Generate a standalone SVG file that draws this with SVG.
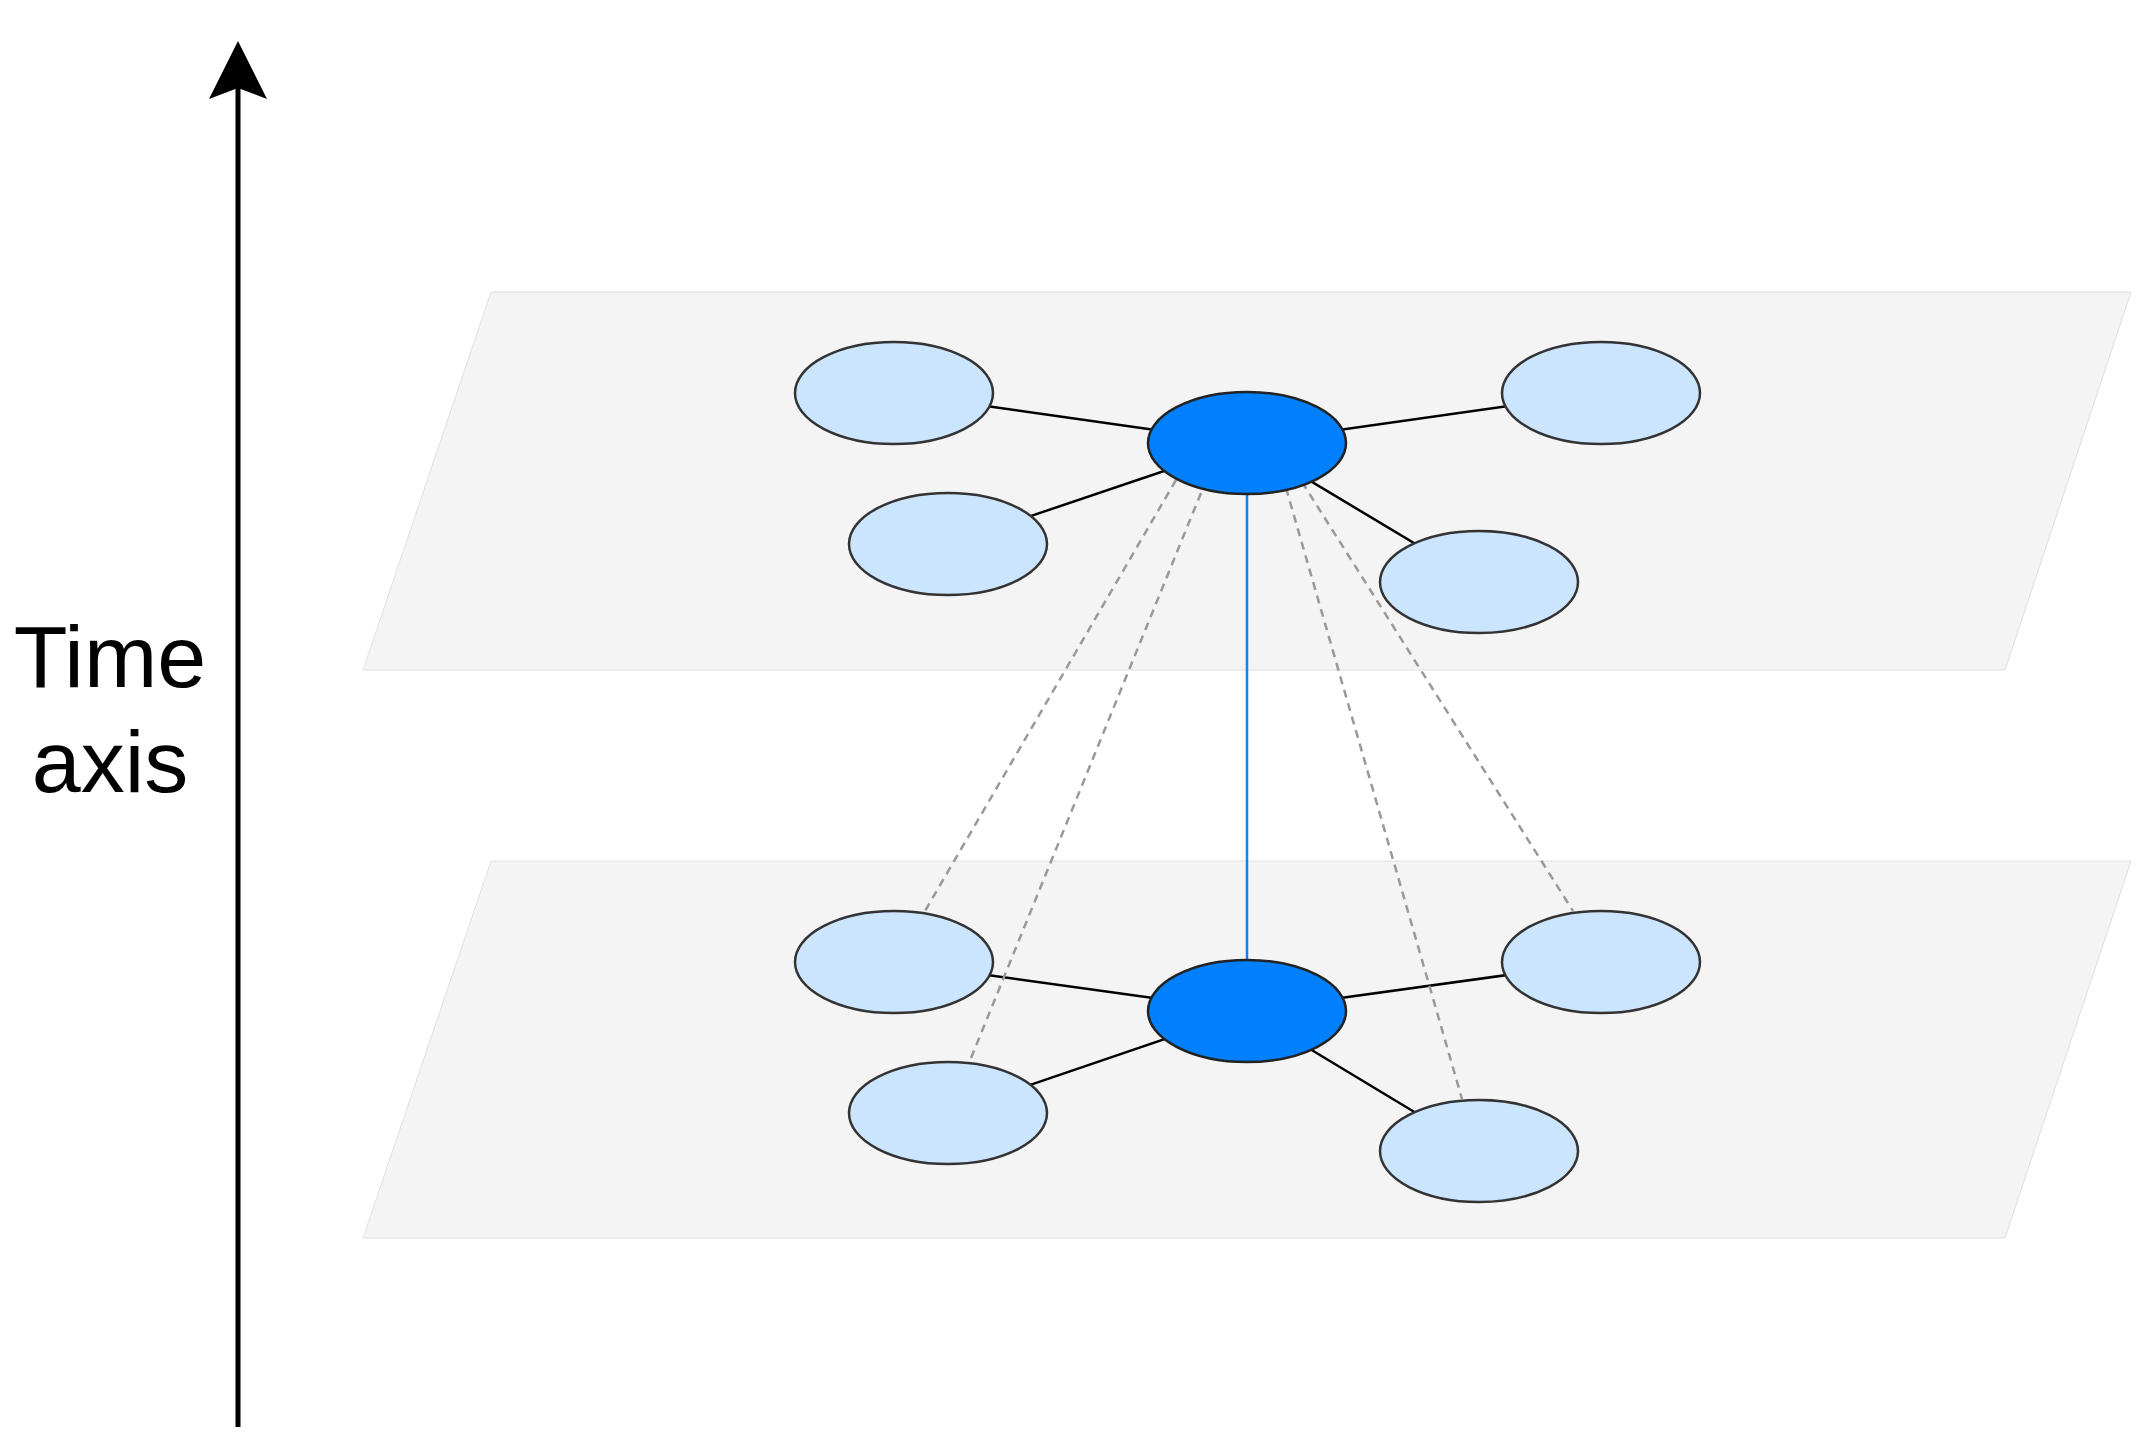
<svg xmlns="http://www.w3.org/2000/svg" width="2149" height="1454" viewBox="0 0 2149 1454">
<style>
.plane{fill:#f4f4f4;stroke:#e0e0e0;stroke-width:1}
.sat{fill:#cce5ff;stroke:#333;stroke-width:2.5}
.hub{fill:#007fff;stroke:#222;stroke-width:2.5}
.e{stroke:#000;stroke-width:2.5}
.d{stroke:#999;stroke-width:2.5;stroke-dasharray:8 6}
.t{font-family:"Liberation Sans",Arial,sans-serif;font-size:88px;fill:#000;text-anchor:middle}
</style>
<defs><marker id="ah" markerWidth="10" markerHeight="10" refX="5" refY="0" orient="auto" markerUnits="userSpaceOnUse" viewBox="0 0 10 10"/></defs>
<rect width="2149" height="1454" fill="#fff"/>
<g id="axis">
<line x1="238" y1="1427" x2="238" y2="80" stroke="#000" stroke-width="5"/>
<polygon points="238,41 267,99 238,88 209,99" fill="#000"/>
<text class="t" x="110" y="687">Time</text>
<text class="t" x="110" y="792">axis</text>
</g>
<g id="plane-top"><polygon class="plane" points="491,292 2131,292 2005,670 363,670"/></g>
<g id="plane-bottom"><polygon class="plane" points="491,861 2131,861 2005,1238 363,1238"/></g>
<g id="connectors">
<line class="e" x1="1247" y1="443" x2="894" y2="393"/>
<line class="e" x1="1247" y1="443" x2="1601" y2="393"/>
<line class="e" x1="1247" y1="443" x2="948" y2="544"/>
<line class="e" x1="1247" y1="443" x2="1479" y2="582"/>
<line class="e" x1="1247" y1="1011" x2="894" y2="962"/>
<line class="e" x1="1247" y1="1011" x2="1601" y2="962"/>
<line class="e" x1="1247" y1="1011" x2="948" y2="1113"/>
<line class="e" x1="1247" y1="1011" x2="1479" y2="1151"/>
<line x1="1247" y1="494" x2="1247" y2="960" stroke="#1a7fe6" stroke-width="2.5"/>
<line class="d" x1="1176" y1="480" x2="925" y2="911"/>
<line class="d" x1="1201" y1="493" x2="969" y2="1063"/>
<line class="d" x1="1286" y1="488" x2="1462" y2="1099"/>
<line class="d" x1="1302" y1="482" x2="1573" y2="911"/>
</g>
<g id="top-hub"><ellipse class="hub" cx="1247" cy="443" rx="99" ry="51"/></g>
<g id="top-s1"><ellipse class="sat" cx="894" cy="393" rx="99" ry="51"/></g>
<g id="top-s2"><ellipse class="sat" cx="1601" cy="393" rx="99" ry="51"/></g>
<g id="top-s3"><ellipse class="sat" cx="948" cy="544" rx="99" ry="51"/></g>
<g id="top-s4"><ellipse class="sat" cx="1479" cy="582" rx="99" ry="51"/></g>
<g id="bot-hub"><ellipse class="hub" cx="1247" cy="1011" rx="99" ry="51"/></g>
<g id="bot-s1"><ellipse class="sat" cx="894" cy="962" rx="99" ry="51"/></g>
<g id="bot-s2"><ellipse class="sat" cx="1601" cy="962" rx="99" ry="51"/></g>
<g id="bot-s3"><ellipse class="sat" cx="948" cy="1113" rx="99" ry="51"/></g>
<g id="bot-s4"><ellipse class="sat" cx="1479" cy="1151" rx="99" ry="51"/></g>
</svg>
